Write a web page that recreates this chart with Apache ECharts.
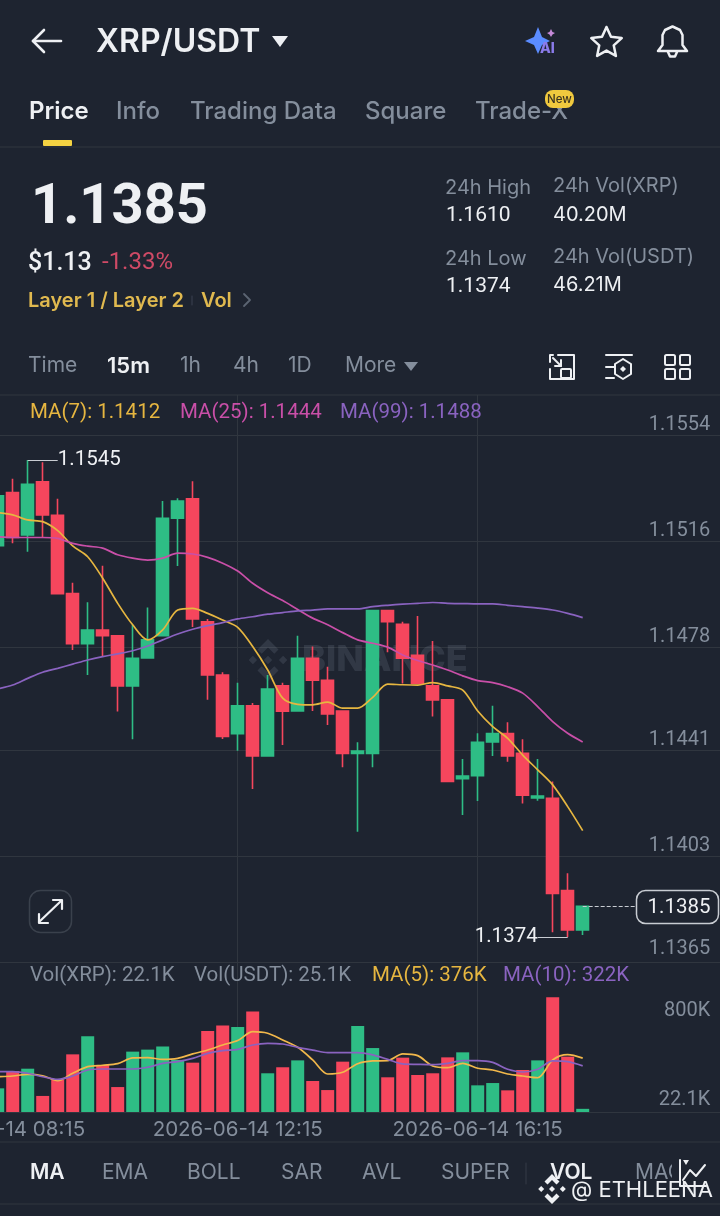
<!DOCTYPE html>
<html><head><meta charset="utf-8">
<style>html,body{margin:0;padding:0;background:#1e2430;overflow:hidden}#c{width:720px;height:1216px}</style>
<script src="https://cdn.jsdelivr.net/npm/echarts@6/dist/echarts.min.js"></script>
</head><body><div id="c"></div>
<script>
const categories = ["2026-06-14 08:15","2026-06-14 08:30","2026-06-14 08:45","2026-06-14 09:00","2026-06-14 09:15","2026-06-14 09:30","2026-06-14 09:45","2026-06-14 10:00","2026-06-14 10:15","2026-06-14 10:30","2026-06-14 10:45","2026-06-14 11:00","2026-06-14 11:15","2026-06-14 11:30","2026-06-14 11:45","2026-06-14 12:00","2026-06-14 12:15","2026-06-14 12:30","2026-06-14 12:45","2026-06-14 13:00","2026-06-14 13:15","2026-06-14 13:30","2026-06-14 13:45","2026-06-14 14:00","2026-06-14 14:15","2026-06-14 14:30","2026-06-14 14:45","2026-06-14 15:00","2026-06-14 15:15","2026-06-14 15:30","2026-06-14 15:45","2026-06-14 16:00","2026-06-14 16:15","2026-06-14 16:30","2026-06-14 16:45","2026-06-14 17:00","2026-06-14 17:15","2026-06-14 17:30","2026-06-14 17:45","2026-06-14 18:00","2026-06-14 18:15","2026-06-14 18:30","2026-06-14 18:45","2026-06-14 19:00","2026-06-14 19:15","2026-06-14 19:30","2026-06-14 19:45","2026-06-14 20:00","2026-06-14 20:15"];
const xLabelIndex = [0,16,32];
const verticalLineIndex = [16,32];
// [open, close, low, high]
const candles = [
[1.15143,1.15322,1.15135,1.15339],[1.15333,1.15172,1.15151,1.15383],[1.15181,1.15363,1.15121,1.1545],[1.15372,1.15253,1.15172,1.15442],
[1.15252,1.14971,1.14971,1.15311],[1.14971,1.14791,1.14769,1.1501],[1.14791,1.1484,1.14679,1.1494],[1.1484,1.1482,1.14747,1.15071],
[1.1482,1.1464,1.14548,1.1482],[1.1464,1.14739,1.14449,1.14859],[1.1474,1.14805,1.1474,1.14921],[1.1482,1.15241,1.1482,1.15303],
[1.15241,1.15303,1.1507,1.15313],[1.15311,1.1488,1.14851,1.15374],[1.1487,1.14679,1.1459,1.1488],[1.14679,1.14459,1.1445,1.14689],
[1.14469,1.14569,1.14407,1.14651],[1.14569,1.14389,1.1427,1.14579],[1.14389,1.14629,1.14389,1.14679],[1.1464,1.14549,1.14428,1.14651],
[1.1455,1.14739,1.1455,1.1482],[1.14739,1.1466,1.1455,1.14781],[1.1466,1.14539,1.145,1.14709],[1.1455,1.14398,1.14348,1.1455],
[1.14398,1.14406,1.14117,1.14438],[1.14398,1.1491,1.14348,1.1491],[1.1491,1.1487,1.14761,1.1491],[1.14861,1.14739,1.14649,1.1487],
[1.1475,1.14649,1.14649,1.14891],[1.1464,1.1459,1.1453,1.14801],[1.1459,1.14297,1.14297,1.1459],[1.14307,1.14317,1.14177,1.14378],
[1.14318,1.14438,1.14227,1.1447],[1.14439,1.14469,1.14389,1.14569],[1.14469,1.14389,1.14368,1.1451],[1.14398,1.14248,1.14218,1.14449],
[1.14238,1.14245,1.14228,1.14378],[1.14237,1.13896,1.13757,1.14297],[1.13906,1.13765,1.1374,1.13968],[1.13765,1.1385,1.13747,1.1385]];
const ma7 = [1.15261,1.15253,1.15235,1.15229,1.15197,1.15142,1.15103,1.15026,1.14936,1.14859,1.14805,1.14841,1.14912,1.14918,1.149,1.14876,1.1485,1.14781,1.14697,1.14596,1.14574,1.14572,1.14582,1.1456,1.1456,1.14599,1.14646,1.14644,1.14643,1.14652,1.1464,1.14625,1.1455,1.14494,1.14452,1.14392,1.14339,1.14285,1.14207,1.14121];
const ma25 = [1.15175,1.15172,1.15172,1.15172,1.15169,1.15151,1.15141,1.15134,1.1511,1.15098,1.15091,1.15098,1.15116,1.15113,1.15101,1.1508,1.15052,1.15008,1.14974,1.14946,1.14914,1.14883,1.14859,1.14831,1.14805,1.14793,1.14779,1.14751,1.14731,1.14715,1.14697,1.14676,1.14659,1.14652,1.14637,1.14614,1.14566,1.14512,1.1447,1.14439];
const ma99 = [1.14629,1.14643,1.14667,1.14689,1.14703,1.14718,1.14733,1.14745,1.14755,1.14766,1.14783,1.14805,1.14826,1.14843,1.14856,1.14867,1.1488,1.14888,1.14897,1.14903,1.14909,1.14912,1.14916,1.14916,1.14916,1.14924,1.14929,1.14933,1.14936,1.14939,1.14936,1.14935,1.14934,1.14934,1.14929,1.14924,1.14919,1.14912,1.149,1.14885];
const volumes = [165,286,302,112,223,402,528,328,174,421,435,456,363,344,565,604,593,700,270,312,360,216,153,351,600,446,242,379,258,270,381,416,186,202,151,293,360,800,386,22.1];
const volMa5 = [246,251,263,253,219,270,316,326,337,377,379,367,374,405,432,467,498,560,549,502,451,363,265,277,337,356,358,405,393,321,309,339,305,293,265,251,239,363,400,376];
const volMa10 = [281,281,270,246,228,251,293,300,300,300,312,339,351,374,409,428,437,467,479,474,451,432,414,414,414,398,367,335,332,330,339,358,358,346,298,279,298,356,351,322];
const priceTicks = [1.1365,1.1403,1.1441,1.1478,1.1516,1.1554];
const volTicks = [22.1,800];
const GREEN='#2EBD85', RED='#F6465D', YEL='#E6B640', PINK='#C94FA8', PUR='#8A63C0', GREY='#848E9C', WHITE='#EEF0F3', LINE='#30363F';
const FF='Inter, "Noto Sans", sans-serif';
const FN='Roboto, "Noto Sans", sans-serif';

const els=[];
function t(x,y,text,fill,size,weight,align,z,ff){els.push({type:'text',z:z||20,style:{x,y:y+1,text,fill,font:(weight||400)+' '+size+'px '+(ff||FF),align:align||'left',verticalAlign:'middle',textAlign:align||'left',textVerticalAlign:'middle'}});}
function n(x,y,text,fill,size,weight,align,z){t(x,y,text,fill,size,weight,align,z,FN);}
function hline(y,x0,x1,c){els.push({type:'line',z:1,shape:{x1:x0,y1:y,x2:x1,y2:y},style:{stroke:c||LINE,lineWidth:1}});}
function poly(points,stroke,w,z,smooth){els.push({type:'polyline',z:z||20,shape:{points,smooth:smooth||0},style:{stroke,lineWidth:w||2,fill:'none',lineCap:'round',lineJoin:'round'}});}
function fillp(points,fill,z){els.push({type:'polygon',z:z||20,shape:{points},style:{fill}});}
function rect(x,y,w,h,r,stroke,lw,fill,z){els.push({type:'rect',z:z||20,shape:{x,y,width:w,height:h,r},style:{stroke:stroke||'none',lineWidth:lw||1,fill:fill||'none'}});}
function logo(cx,cy,s,fill,z){
  const P=a=>a.map(p=>[cx+p[0]*s,cy+p[1]*s]);
  fillp(P([[0,-1],[.5,-.5],[.3,-.3],[0,-.6],[-.3,-.3],[-.5,-.5]]),fill,z);
  fillp(P([[0,1],[.5,.5],[.3,.3],[0,.6],[-.3,.3],[-.5,.5]]),fill,z);
  fillp(P([[0,-.2],[.2,0],[0,.2],[-.2,0]]),fill,z);
  fillp(P([[-.72,-.2],[-.52,0],[-.72,.2],[-.92,0]]),fill,z);
  fillp(P([[.72,-.2],[.52,0],[.72,.2],[.92,0]]),fill,z);
}
// Header
poly([[33,41],[61,41]],WHITE,2.6);poly([[44,30],[33,41],[44,52]],WHITE,2.6);
t(96,41,'XRP/USDT',WHITE,32,600);
fillp([[272,36],[288,36],[280,47]],WHITE);
fillp([[538,27],[542,37],[550,41],[542,45],[538,54],[534,45],[525,41],[534,37]],'#5B8CFF');
fillp([[551,29],[552.5,32],[555,33],[552.5,34.5],[551,37],[549.5,34.5],[547,33],[549.5,32]],'#C58AD8');
t(540,48,'AI','#8A7BEA',14,800);
(function(){const p=[];for(let i=0;i<10;i++){const a=-Math.PI/2+i*Math.PI/5,r=i%2?7.6:16;p.push([606.5+r*Math.cos(a),43+r*Math.sin(a)]);}p.push(p[0]);poly(p,WHITE,2.5);})();
poly([[658,51],[662.5,45],[662.5,35],[665,30],[672.5,26.5],[680,30],[682.5,35],[682.5,45],[687,51],[658,51]],WHITE,2.5);
poly([[668,52],[670,56.5],[675,56.5],[677,52]],WHITE,2.5);
// Tabs
t(29,111,'Price',WHITE,24,600);t(116,111,'Info',GREY,24,500);t(190,111,'Trading Data',GREY,24,500);t(365,111,'Square',GREY,24,500);t(475,111,'Trade-X',GREY,24,500);
rect(545,90,29,18,8,null,1,'#F0C93E',21);t(559.5,98.5,'New','#3a3320',11.5,500,'center',22);
rect(43,140,29,6,1,null,1,'#F5D342',21);hline(147,0,720);
// Price block
n(31,208,'1.1385',WHITE,56,700);
n(28,263,'$1.13',WHITE,25,500);n(102,262,'-1.33%','#CF4A66',24,400);
t(28,300,'Layer 1 / Layer 2','#E0B94F',20,600);t(201,300,'Vol','#E0B94F',20,600);
poly([[192,296],[192,305]],'#3a4150',1);poly([[244,294],[250,300],[244,306]],'#5b6472',1.8);
t(445,187,'24h High',GREY,20);n(446,215,'1.1610',WHITE,21);t(445,258,'24h Low',GREY,20);n(446,286,'1.1374',WHITE,21);
t(553,185,'24h Vol(XRP)',GREY,20);t(553,214,'40.20M',WHITE,20);t(553,256,'24h Vol(USDT)',GREY,20);t(553,284,'46.21M',WHITE,20);
// Period row
t(28,365,'Time',GREY,21);t(107,365,'15m',WHITE,22,600);t(180,365,'1h',GREY,21);t(233,365,'4h',GREY,21);t(288,365,'1D',GREY,21);t(345,365,'More',GREY,21);
fillp([[404,362],[418,362],[411,371]],GREY);
poly([[558,355],[574,355],[574,379],[550,379],[550,369]],WHITE,2);poly([[550,362],[550,355],[553,355]],WHITE,2);poly([[553,358],[561,366]],WHITE,2);poly([[561,360],[561,366],[555,366]],WHITE,2);rect(561,369,10,9,1,WHITE,2);
poly([[606,355],[632,355]],WHITE,2);poly([[606,367],[614,367]],WHITE,2);poly([[606,378],[614,378]],WHITE,2);
poly([[623,359],[631,364],[631,374],[623,379],[615,374],[615,364],[623,359]],WHITE,2);fillp([[623,366],[626,369],[623,372],[620,369]],WHITE);
rect(665,355,10,10,1.5,WHITE,2);rect(680,355,10,10,1.5,WHITE,2);rect(665,369,10,10,1.5,WHITE,2);rect(680,369,10,10,1.5,WHITE,2);
hline(395,0,720);
// MA legend
n(30,412,'MA(7): 1.1412',YEL,20.5);n(180,412,'MA(25): 1.1444',PINK,20.5);n(340,412,'MA(99): 1.1488',PUR,20.5);
// Watermark
logo(268,660,21,'rgba(150,160,175,0.17)',1);
t(302,659,'BINANCE','rgba(150,160,175,0.17)',36,800,'left',1);
// Expand
rect(29.5,890.5,42,42,11,'#3a414c',1.5);
poly([[39,922],[61,901]],WHITE,2.2);poly([[53,900],[62,900],[62,909]],WHITE,2.2);poly([[39,914],[39,923],[48,923]],WHITE,2.2);
// Last price box
rect(636.5,890.5,82,33,9,'#C8CCD2',1.5,'#1e2430',21);n(679,907,'1.1385',WHITE,20.5,400,'center',22);
// Volume legend
n(30,975,'Vol(XRP): 22.1K',GREY,20.5);n(194,975,'Vol(USDT): 25.1K',GREY,20.5);n(372,975,'MA(5): 376K',YEL,20.5);n(503,975,'MA(10): 322K',PUR,20.5);
hline(1142,0,720);hline(1204,0,720);
// Bottom tabs
t(30,1172,'MA',WHITE,21,600);t(102,1172,'EMA',GREY,21);t(187,1172,'BOLL',GREY,21);t(281,1172,'SAR',GREY,21);t(362,1172,'AVL',GREY,21);t(441,1172,'SUPER',GREY,21);
poly([[526,1163],[526,1184]],'#343b46',1);t(550,1172,'VOL',WHITE,21,600);t(635,1172,'MAC',GREY,21,400);
rect(672,1150,22,32,0,null,1,'#1e2430',21);
poly([[680,1160],[680,1186],[706,1186]],WHITE,2,22);poly([[683,1180],[690,1170],[696,1176],[705,1165]],WHITE,2,22);fillp([[683,1160],[689,1160],[686,1165]],WHITE,22);
logo(552,1189,15,WHITE,23);
t(571,1189,'@ ETHLEENA',WHITE,22,400,'left',23);

const chart=echarts.init(document.getElementById('c'));
const vGrid=(i)=>verticalLineIndex.includes(i);
const splitV={show:true,alignWithLabel:true,interval:(i)=>vGrid(i),lineStyle:{color:LINE,width:1}};
const lineSeries=(name,data,color,x,y)=>({name,type:'line',data,xAxisIndex:x,yAxisIndex:y,showSymbol:false,smooth:0.3,z:5,lineStyle:{color,width:1.7},itemStyle:{color},silent:true});
const extreme=(f)=>({show:true,position:'end',formatter:f,color:WHITE,fontSize:20.5,fontFamily:FN,distance:0});
chart.setOption({
  animation:false,backgroundColor:'#1e2430',
  grid:[{left:-9.8,top:395,width:735,height:567,outerBoundsMode:'none'},{left:-9.8,top:962,width:735,height:150,outerBoundsMode:'none'}],
  xAxis:[
    {type:'category',gridIndex:0,data:categories,boundaryGap:true,axisLine:{show:true,lineStyle:{color:LINE}},axisTick:{show:false},axisLabel:{show:false},splitLine:splitV},
    {type:'category',gridIndex:1,data:categories,boundaryGap:true,axisLine:{show:true,lineStyle:{color:LINE}},axisTick:{show:false},splitLine:splitV,
     axisLabel:{show:true,interval:(i)=>xLabelIndex.includes(i),color:GREY,fontSize:20.5,fontFamily:FF,margin:7,hideOverlap:false,showMinLabel:true}}
  ],
  yAxis:[
    {type:'value',gridIndex:0,position:'right',min:1.1365,max:1.15683,axisLine:{show:false},axisTick:{show:false,customValues:priceTicks},
     splitLine:{show:true,lineStyle:{color:LINE,width:1}},
     axisLabel:{inside:true,margin:15,customValues:priceTicks,verticalAlign:'middle',
       formatter:v=>(v===priceTicks[0]?'{low|':'{up|')+v.toFixed(4)+'}',
       rich:{up:{fontSize:20,fontFamily:FN,color:GREY,padding:[0,0,20,0]},low:{fontSize:20,fontFamily:FN,color:GREY,padding:[0,0,26,0]}}}},
    {type:'value',gridIndex:1,position:'right',min:0,max:1046,axisLine:{show:false},axisTick:{show:false},splitLine:{show:false},
     axisLabel:{inside:true,margin:15,customValues:volTicks,verticalAlign:'middle',
       formatter:v=>v===800?'{hi|800K}':'{lo|22.1K}',
       rich:{hi:{fontSize:20,fontFamily:FN,color:GREY,padding:[28,0,0,0]},lo:{fontSize:20,fontFamily:FN,color:GREY,padding:[0,0,18,0]}}}}
  ],
  series:[
    {type:'candlestick',xAxisIndex:0,yAxisIndex:0,data:candles,barWidth:12,z:3,
     itemStyle:{color:GREEN,color0:RED,borderColor:GREEN,borderColor0:RED,borderWidth:1.6},
     markLine:{silent:true,symbol:'none',animation:false,z:4,data:[
       [{coord:[2,1.1545],lineStyle:{color:'#C8CCD2',width:1,type:'solid'},label:extreme('1.1545')},{coord:[4,1.1545]}],
       [{coord:[38,1.1374],lineStyle:{color:'#C8CCD2',width:1,type:'solid'},label:extreme('1.1374')},{coord:[36,1.1374]}],
       [{coord:[39,1.1385],lineStyle:{color:'#C8CCD2',width:1,type:'dashed'},label:{show:false}},{coord:[43,1.1385]}]
     ]}},
    lineSeries('MA7',ma7,YEL,0,0),lineSeries('MA25',ma25,PINK,0,0),lineSeries('MA99',ma99,PUR,0,0),
    {type:'bar',xAxisIndex:1,yAxisIndex:1,barWidth:13,z:3,data:volumes,
     itemStyle:{color:p=>candles[p.dataIndex][1]>=candles[p.dataIndex][0]?GREEN:RED}},
    lineSeries('VMA5',volMa5,'#F2B84B',1,1),lineSeries('VMA10',volMa10,PUR,1,1)
  ],
  graphic:{elements:els}
});
</script></body></html>
